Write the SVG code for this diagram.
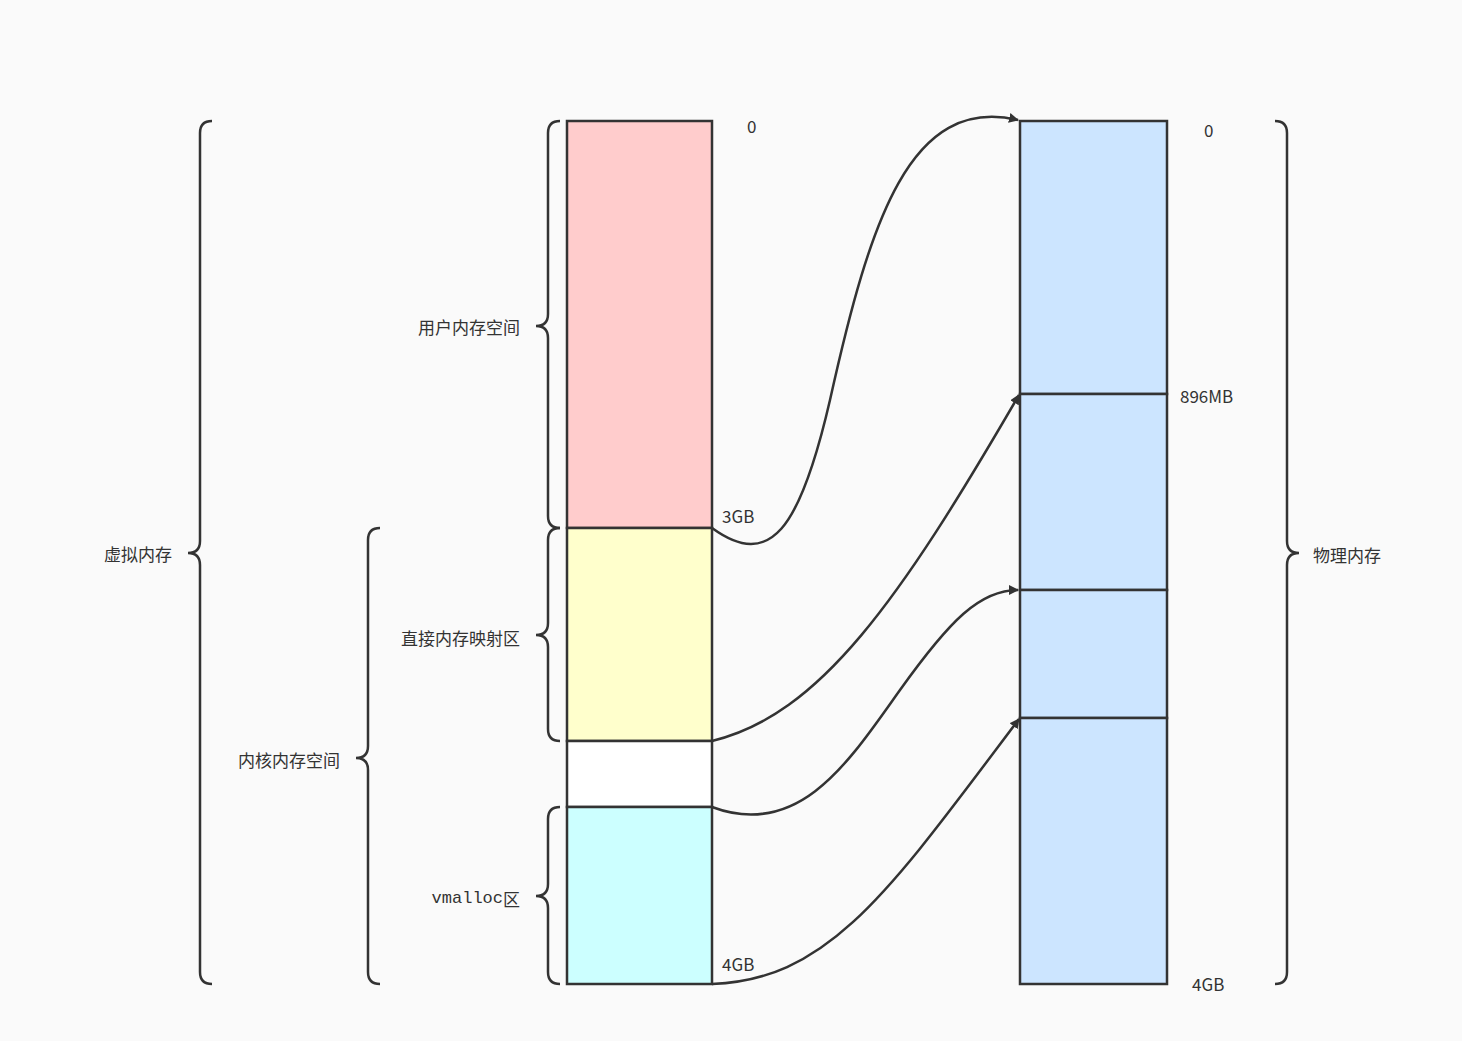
<svg xmlns="http://www.w3.org/2000/svg" width="1462" height="1041" viewBox="0 0 1462 1041">
<defs>
<marker id="ah" viewBox="0 0 10 10" refX="9" refY="5" markerWidth="10" markerHeight="10" markerUnits="userSpaceOnUse" orient="auto"><path d="M0,0 L10,5 L0,10 Z" fill="#333"/></marker>
<style>
.b{fill:none;stroke:#333;stroke-width:2.5}
.r{stroke:#333;stroke-width:2.5}
.t{font-family:"Noto Sans CJK SC","Noto Sans",sans-serif;font-size:17px;fill:#333;dominant-baseline:central}
.c{fill:none;stroke:#333;stroke-width:2.5;marker-end:url(#ah)}
</style>
</defs>
<rect width="1462" height="1041" fill="#fafafa"/>
<g id="virtual">
<rect class="r" x="567" y="121" width="145" height="407" fill="#ffcccc"/>
<rect class="r" x="567" y="528" width="145" height="213" fill="#ffffcc"/>
<rect class="r" x="567" y="741" width="145" height="66" fill="#ffffff"/>
<rect class="r" x="567" y="807" width="145" height="177" fill="#ccffff"/>
</g>
<g id="physical">
<rect class="r" x="1020" y="121" width="147" height="273" fill="#cce5ff"/>
<rect class="r" x="1020" y="394" width="147" height="196" fill="#cce5ff"/>
<rect class="r" x="1020" y="590" width="147" height="128" fill="#cce5ff"/>
<rect class="r" x="1020" y="718" width="147" height="266" fill="#cce5ff"/>
</g>
<g id="braces">
<path class="b" d="M212,121 Q200,121 200,133 L200,541 Q200,553 188,553 Q200,553 200,565 L200,972 Q200,984 212,984"/>
<path class="b" d="M380,528 Q368,528 368,540 L368,746 Q368,758 356,758 Q368,758 368,770 L368,972 Q368,984 380,984"/>
<path class="b" d="M560,121 Q548,121 548,133 L548,314 Q548,326 536,326 Q548,326 548,338 L548,516 Q548,528 560,528"/>
<path class="b" d="M560,528 Q548,528 548,540 L548,623 Q548,635 536,635 Q548,635 548,647 L548,729 Q548,741 560,741"/>
<path class="b" d="M560,807 Q548,807 548,819 L548,884 Q548,896 536,896 Q548,896 548,908 L548,972 Q548,984 560,984"/>
<path class="b" d="M1275,121 Q1287,121 1287,133 L1287,541 Q1287,553 1299,553 Q1287,553 1287,565 L1287,972 Q1287,984 1275,984"/>
</g>
<g id="connectors">
<path class="c" d="M712,528 C770,570 800,530 830,400 C870,220 910,95 1018,120"/>
<path class="c" d="M712,741 C820,715 900,600 1019,395"/>
<path class="c" d="M712,807 C800,840 850,760 900,690 C950,620 980,590 1018,590"/>
<path class="c" d="M712,984 C830,980 890,890 1019,719"/>
</g>
<g id="labels">
<text class="t" x="172" y="553" text-anchor="end">虚拟内存</text>
<text class="t" x="340" y="759" text-anchor="end">内核内存空间</text>
<text class="t" x="520" y="326" text-anchor="end">用户内存空间</text>
<text class="t" x="520" y="637" text-anchor="end">直接内存映射区</text>
<text class="t" x="520" y="898" text-anchor="end"><tspan font-family="Liberation Mono, monospace">vmalloc</tspan>区</text>
<text class="t" x="1313" y="554">物理内存</text>
<text class="t" x="747" y="125">0</text>
<text class="t" x="722" y="515">3GB</text>
<text class="t" x="722" y="963">4GB</text>
<text class="t" x="1204" y="129">0</text>
<text class="t" x="1180" y="395">896MB</text>
<text class="t" x="1192" y="983">4GB</text>
</g>
</svg>
